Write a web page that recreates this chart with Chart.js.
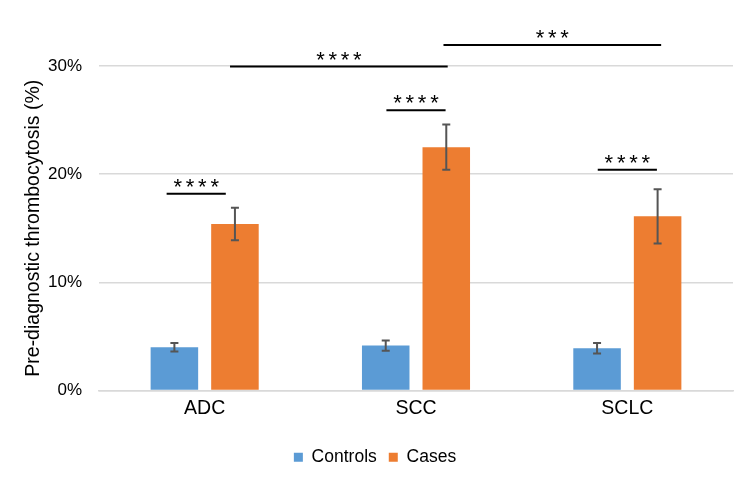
<!DOCTYPE html>
<html lang="en">
<head>
    <meta charset="UTF-8">
    <title>Pre-diagnostic thrombocytosis</title>
    <script src="https://cdn.jsdelivr.net/npm/chart.js"></script>
    <style>
        html, body { margin: 0; padding: 0; background: #fff; }
        #wrap { width: 750px; height: 478px; }
    </style>
</head>
<body>
    <div id="wrap"><canvas id="thromboChart" width="750" height="478"></canvas></div>
    <script>
        // Data (percent)
        const categories = ["ADC", "SCC", "SCLC"];
        const controls = [4.0, 4.15, 3.9];
        const controlsErr = [0.4, 0.47, 0.48];
        const cases = [15.4, 22.5, 16.1];
        const casesErr = [1.5, 2.1, 2.5];
        const yTicks = [0, 10, 20, 30];

        // Significance brackets: start/end in category units, height in %, label
        const sigStart = [-0.18, 0.86, 1.86, 0.12, 1.13];
        const sigEnd = [0.10, 1.14, 2.14, 1.15, 2.16];
        const sigLevel = [18.2, 25.9, 20.4, 29.95, 31.95];
        const sigLabels = ["****", "****", "****", "****", "***"];

        const FONT = "'Liberation Sans', Arial, sans-serif";

        function catPixel(xs, u) {
            const p0 = xs.getPixelForValue(0);
            const p1 = xs.getPixelForValue(1);
            return p0 + u * (p1 - p0);
        }

        // error bars drawn from the dataset values
        const errorBars = {
            id: "errorBars",
            afterDatasetsDraw(chart) {
                const ctx = chart.ctx;
                const ys = chart.scales.y;
                const errs = [controlsErr, casesErr];
                ctx.save();
                ctx.strokeStyle = "#555";
                ctx.lineWidth = 2;
                chart.data.datasets.forEach((ds, di) => {
                    const meta = chart.getDatasetMeta(di);
                    meta.data.forEach((bar, i) => {
                        const v = ds.data[i];
                        const e = errs[di][i];
                        const x = bar.x;
                        const yTop = ys.getPixelForValue(v + e);
                        const yBot = ys.getPixelForValue(v - e);
                        ctx.beginPath();
                        ctx.moveTo(x, yTop); ctx.lineTo(x, yBot);
                        ctx.moveTo(x - 4, yTop); ctx.lineTo(x + 4, yTop);
                        ctx.moveTo(x - 4, yBot); ctx.lineTo(x + 4, yBot);
                        ctx.stroke();
                    });
                });
                ctx.restore();
            }
        };

        // significance lines and asterisks
        const sigMarks = {
            id: "sigMarks",
            afterDraw(chart) {
                const ctx = chart.ctx;
                const xs = chart.scales.x;
                const ys = chart.scales.y;
                ctx.save();
                ctx.strokeStyle = "#000";
                ctx.fillStyle = "#000";
                ctx.lineWidth = 2;
                ctx.font = "22px " + FONT;
                ctx.textAlign = "center";
                ctx.textBaseline = "alphabetic";
                sigLabels.forEach((lab, i) => {
                    const x1 = catPixel(xs, sigStart[i]);
                    const x2 = catPixel(xs, sigEnd[i]);
                    const y = ys.getPixelForValue(sigLevel[i]);
                    ctx.beginPath();
                    ctx.moveTo(x1, y); ctx.lineTo(x2, y);
                    ctx.stroke();
                    const adv = 12.3;
                    const cx = (x1 + x2) / 2;
                    const start = cx - (lab.length - 1) * adv / 2;
                    for (let k = 0; k < lab.length; k++) {
                        ctx.fillText(lab[k], start + k * adv, y);
                    }
                });
                ctx.restore();
            }
        };

        const ctx = document.getElementById("thromboChart").getContext("2d");
        new Chart(ctx, {
            type: "bar",
            data: {
                labels: categories,
                datasets: [
                    {
                        label: "Controls",
                        data: controls,
                        backgroundColor: "#5B9BD5",
                        categoryPercentage: 0.573,
                        barPercentage: 0.785
                    },
                    {
                        label: "Cases",
                        data: cases,
                        backgroundColor: "#ED7D31",
                        categoryPercentage: 0.573,
                        barPercentage: 0.785
                    }
                ]
            },
            options: {
                responsive: false,
                animation: false,
                devicePixelRatio: 1,
                layout: { padding: { top: 66, right: 0, left: 0, bottom: 2 } },
                plugins: {
                    legend: {
                        position: "bottom",
                        labels: {
                            boxWidth: 9,
                            boxHeight: 9,
                            padding: 12,
                            color: "#000",
                            font: { family: FONT, size: 17.5 }
                        }
                    },
                    tooltip: { enabled: false }
                },
                scales: {
                    x: {
                        grid: { display: false, drawTicks: false },
                        border: { display: true, color: "#D9D9D9", width: 1.5 },
                        ticks: {
                            color: "#000",
                            padding: 6,
                            font: { family: FONT, size: 19.5 }
                        },
                        afterFit(scale) { scale.height = 46; }
                    },
                    y: {
                        min: 0,
                        max: 30,
                        afterBuildTicks(scale) {
                            scale.ticks = yTicks.map(v => ({ value: v }));
                        },
                        grid: { color: "#D9D9D9", lineWidth: 1.5, drawTicks: false },
                        border: { display: false },
                        ticks: {
                            color: "#000",
                            padding: 17,
                            font: { family: FONT, size: 17 },
                            callback: v => v + "%"
                        },
                        title: {
                            display: true,
                            text: "Pre-diagnostic thrombocytosis (%)",
                            color: "#000",
                            padding: { top: 22, bottom: 0 },
                            font: { family: FONT, size: 19.5 }
                        },
                        afterFit(scale) { scale.width = 99; }
                    },
                    // empty right margin so the legend centres on the full width
                    pad: {
                        type: "linear",
                        position: "right",
                        display: true,
                        grid: { display: false, drawTicks: false },
                        border: { display: false },
                        ticks: { display: false },
                        afterFit(scale) { scale.width = 17; }
                    }
                }
            },
            plugins: [errorBars, sigMarks]
        });
    </script>
</body>
</html>
